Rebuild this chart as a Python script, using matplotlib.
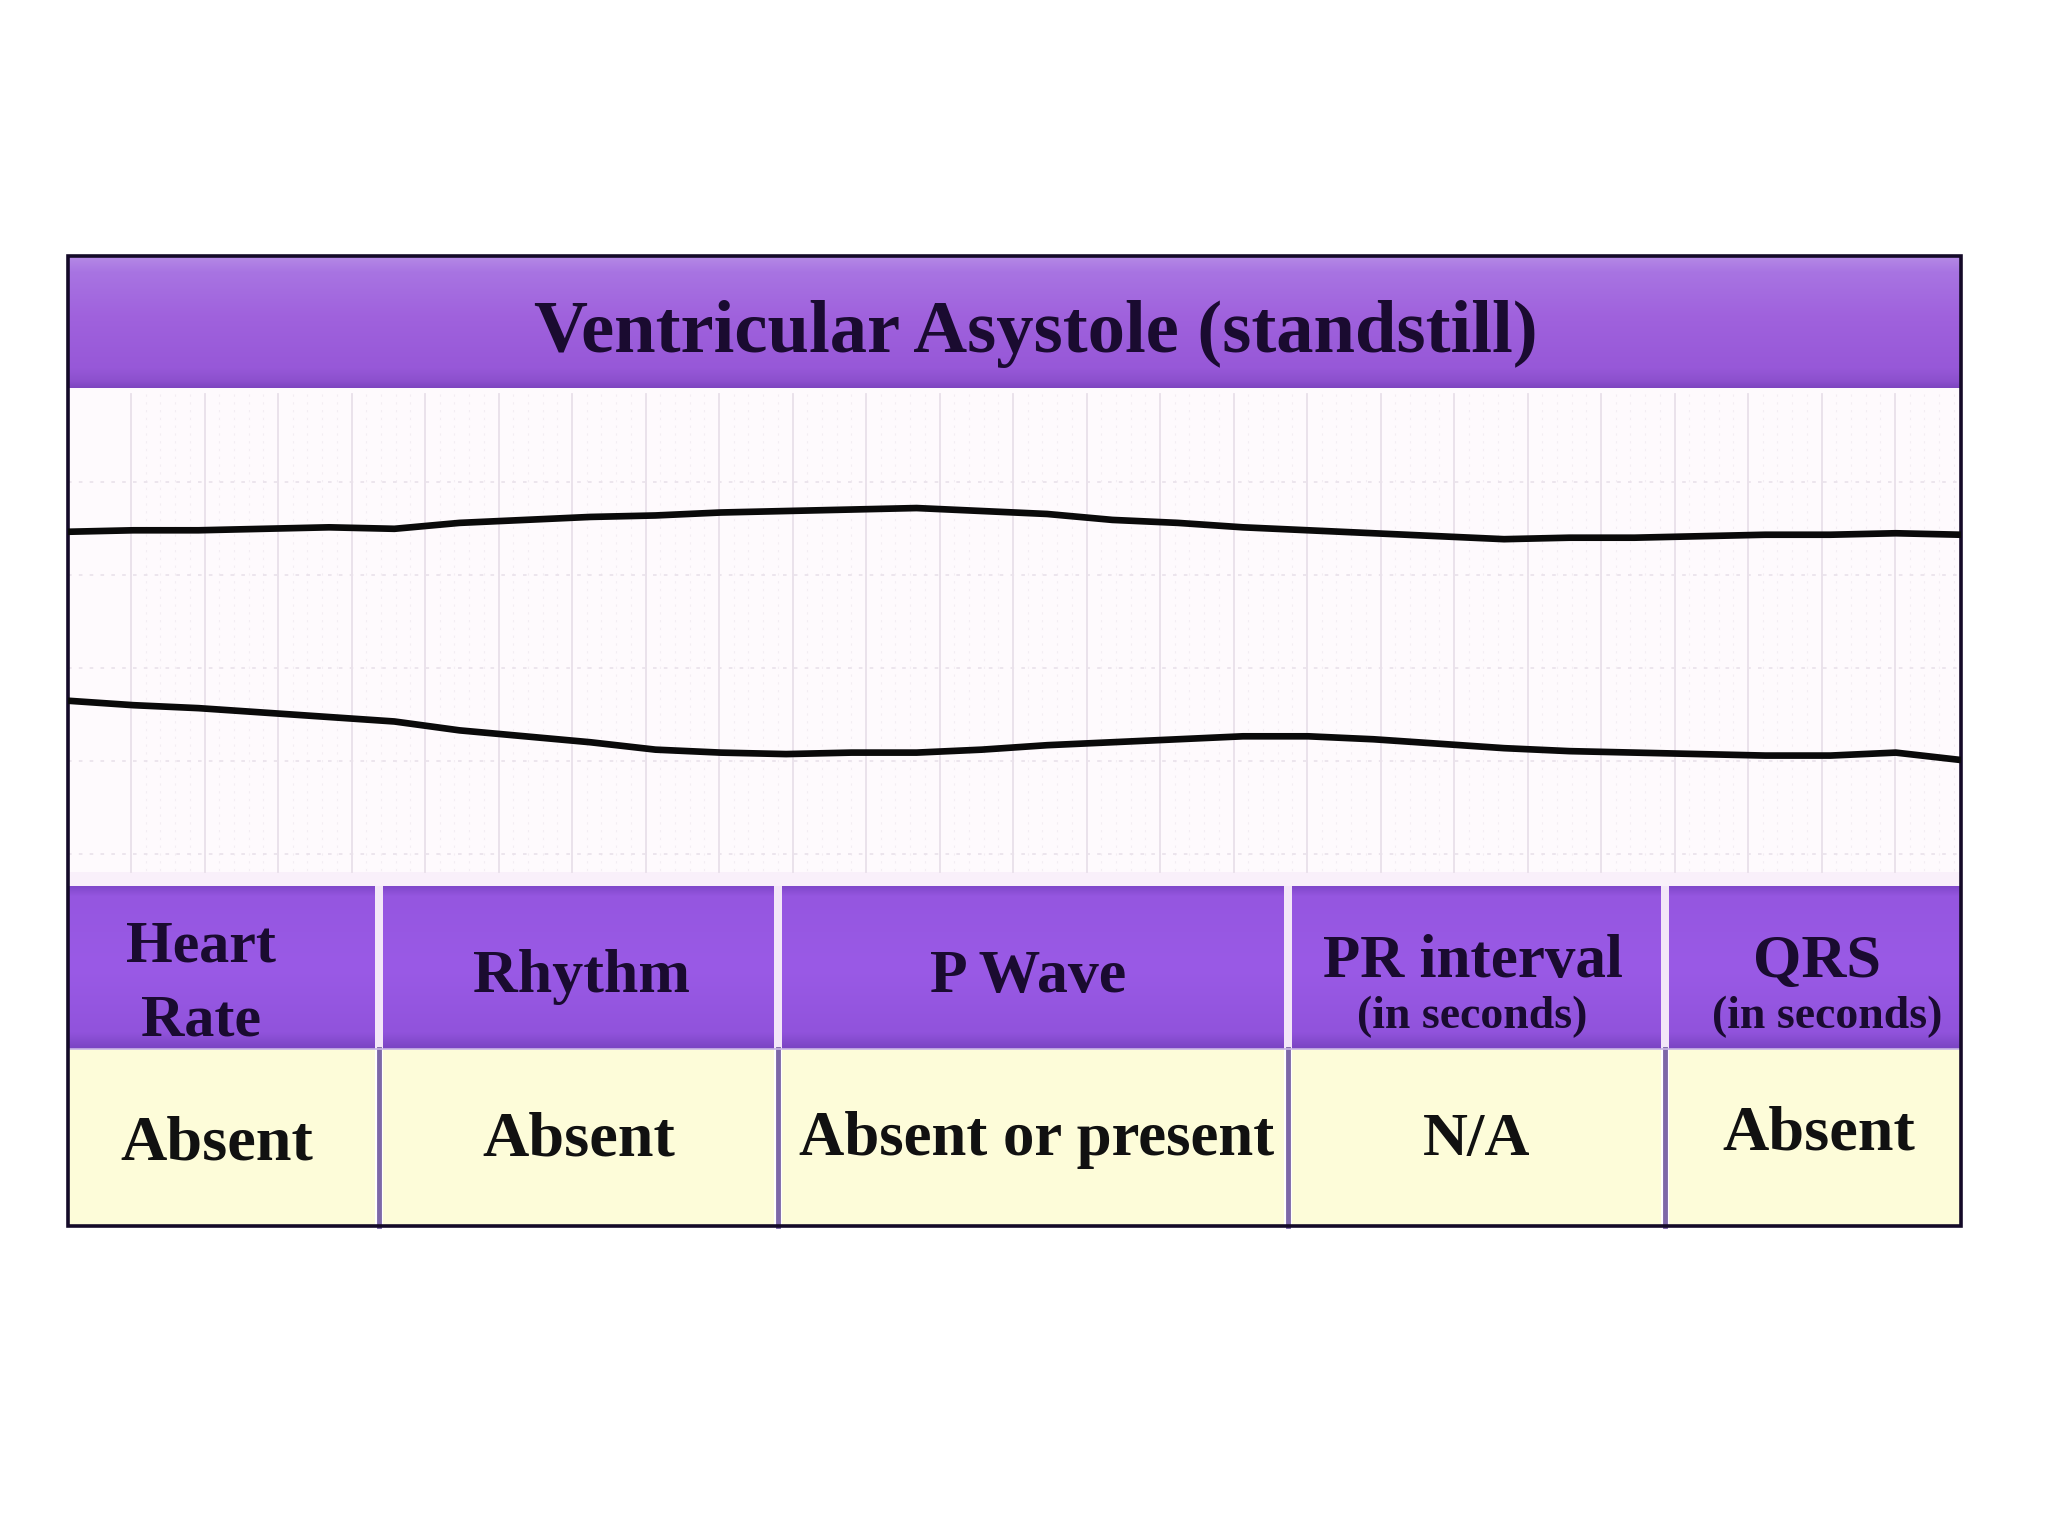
import matplotlib
matplotlib.use("Agg")
import matplotlib.pyplot as plt
import numpy as np
from matplotlib.patches import Rectangle
from matplotlib.colors import to_rgb

# ---------------- data ----------------
title = "Ventricular Asystole (standstill)"
header_labels = ["Heart\nRate", "Rhythm", "P Wave", "PR interval", "QRS"]
header_sub = ["", "", "", "(in seconds)", "(in seconds)"]
row_values = ["Absent", "Absent", "Absent or present", "N/A", "Absent"]

# ECG strip samples (time in s, amplitude in mm above strip bottom)
time_s = [0.0, 0.2, 0.4, 0.6, 0.8, 1.0, 1.2, 1.4, 1.6, 1.8,
          2.0, 2.2, 2.4, 2.6, 2.8, 3.0, 3.2, 3.4, 3.6, 3.8,
          4.0, 4.2, 4.4, 4.6, 4.8, 5.0, 5.2, 5.4, 5.6, 5.8]
upper_mm = [23.9, 24.0, 24.0, 24.1, 24.2, 24.1, 24.5, 24.7, 24.9, 25.0,
            25.2, 25.3, 25.4, 25.5, 25.3, 25.1, 24.7, 24.5, 24.2, 24.0,
            23.8, 23.6, 23.4, 23.5, 23.5, 23.6, 23.7, 23.7, 23.8, 23.7]
lower_mm = [12.5, 12.2, 12.0, 11.7, 11.4, 11.1, 10.5, 10.1, 9.7, 9.2,
            9.0, 8.9, 9.0, 9.0, 9.2, 9.5, 9.7, 9.9, 10.1, 10.1,
            9.9, 9.6, 9.3, 9.1, 9.0, 8.9, 8.8, 8.8, 9.0, 8.5]

# ---------------- layout (pixels) ----------------
W, H = 2048, 1536
BOX_L, BOX_R, BOX_T, BOX_B = 68, 1961, 256, 1226
TITLE_B = 388
ECG_B = 886
HEAD_B = 1049
DIVS = [379, 778, 1288, 1665]

fig = plt.figure(figsize=(W / 100, H / 100), dpi=100)
fig.patch.set_facecolor("white")
ax = fig.add_axes([0, 0, 1, 1])
ax.set_axis_off()


def vgrad(x0, x1, y0, y1, stops, z=1):
    n = 200
    pos = np.array([s[0] for s in stops])
    cols = np.array([to_rgb(s[1]) for s in stops])
    t = np.linspace(0, 1, n)
    arr = np.stack([np.interp(t, pos, cols[:, i]) for i in range(3)], axis=-1)
    arr = arr[:, None, :]
    ax.imshow(arr, extent=[x0, x1, y1, y0], origin="upper",
              aspect="auto", zorder=z, interpolation="bilinear")


# title band
vgrad(BOX_L, BOX_R, BOX_T, TITLE_B,
      [(0, "#b58ae6"), (0.12, "#a874e2"), (0.45, "#a062dd"),
       (0.85, "#9758d8"), (0.95, "#8c50cd"), (1.0, "#7e46c0")])

# ECG background
ax.add_patch(Rectangle((BOX_L, TITLE_B), BOX_R - BOX_L, ECG_B - TITLE_B,
                       facecolor="#fefafd", edgecolor="none", zorder=1))
ax.add_patch(Rectangle((BOX_L, ECG_B - 14), BOX_R - BOX_L, 14,
                       facecolor="#f9f0fa", edgecolor="none", zorder=1.2))
# grid
gx = 131.0
while gx < BOX_R:
    if gx > BOX_L:
        ax.plot([gx, gx], [TITLE_B + 6, ECG_B - 14], color="#e8e0ea",
                lw=1.3, zorder=1.5)
    for m in range(1, 5):
        mx = gx + m * 14.7
        if BOX_L < mx < BOX_R:
            ax.plot([mx, mx], [TITLE_B + 6, ECG_B - 14], color="#f3edf3",
                    lw=0.8, ls=(0, (2, 5)), zorder=1.4)
    gx += 73.5
gy = 482.0
while gy < ECG_B - 14:
    ax.plot([BOX_L, BOX_R], [gy, gy], color="#ebe3ec", lw=1.3,
            ls=(0, (2, 4)), zorder=1.5)
    gy += 93.0

# header cells
hx = [BOX_L] + DIVS + [BOX_R]
for i in range(5):
    x0 = hx[i] + (4 if i > 0 else 0)
    x1 = hx[i + 1] - (4 if i < 4 else 0)
    vgrad(x0, x1, ECG_B, HEAD_B,
          [(0, "#8048ca"), (0.06, "#9556e0"), (0.5, "#9a5ae6"),
           (0.9, "#9153dc"), (1.0, "#7a44c2")], z=2)
    ax.add_patch(Rectangle((x0, HEAD_B), x1 - x0, BOX_B - HEAD_B,
                           facecolor="#fdfcd9", edgecolor="none", zorder=2))
for d in DIVS:
    ax.add_patch(Rectangle((d - 4, ECG_B), 8, HEAD_B - ECG_B,
                           facecolor="#f3e6f8", edgecolor="none", zorder=2.5))
    ax.plot([d, d], [HEAD_B, BOX_B], color="#7d68a8", lw=3.5, zorder=2.5)
ax.plot([BOX_L, BOX_R], [HEAD_B, HEAD_B], color="#c9b5e6", lw=1.2, zorder=2.6)

# border
ax.add_patch(Rectangle((BOX_L, BOX_T), BOX_R - BOX_L, BOX_B - BOX_T,
                       fill=False, edgecolor="#140a28", lw=2.6, zorder=5))

ax.set_xlim(0, W)
ax.set_ylim(H, 0)

# ECG traces via their own axes
ax2 = fig.add_axes([BOX_L / W, 1 - ECG_B / H, (BOX_R - BOX_L) / W,
                    (ECG_B - TITLE_B) / H])
ax2.patch.set_visible(False)
ax2.set_axis_off()
ax2.plot(time_s, upper_mm, color="#0a0a0a", lw=4.8, solid_joinstyle="round",
         solid_capstyle="butt")
ax2.plot(time_s, lower_mm, color="#0a0a0a", lw=4.8, solid_joinstyle="round",
         solid_capstyle="butt")
ax2.set_xlim(0, 5.8)
ax2.set_ylim(0, 33.6)

# ---------------- texts ----------------
FONT = ["Liberation Serif", "DejaVu Serif"]
items = []


def put(s, cx, base, width, cap, color):
    t = ax.text(cx, base, s, ha="center", va="baseline", fontsize=40,
                fontweight="bold", family=FONT, color=color, zorder=6)
    items.append((t, width, cap))


put(title, 1036, 352, 1002, 63, "#1a0b30")
hl = header_labels[0].split("\n")
put(hl[0], 201, 961, 150, 49, "#1a0b30")
put(hl[1], 201, 1035, 120, 49, "#1a0b30")
put(header_labels[1], 581, 992, 217, 50, "#1a0b30")
put(header_labels[2], 1028, 992, 196, 50, "#1a0b30")
put(header_labels[3], 1473, 977, 300, 50, "#1a0b30")
put(header_sub[3], 1472, 1028, 247, 30, "#1a0b30")
put(header_labels[4], 1817, 977, 128, 50, "#1a0b30")
put(header_sub[4], 1827, 1028, 246, 30, "#1a0b30")
put(row_values[0], 217, 1159, 192, 53, "#111111")
put(row_values[1], 579, 1155, 192, 53, "#111111")
put(row_values[2], 1037, 1155, 474, 53, "#111111")
put(row_values[3], 1477, 1155, 107, 53, "#111111")
put(row_values[4], 1819, 1149, 192, 53, "#111111")

fig.canvas.draw()
r = fig.canvas.get_renderer()
for t, tw, cap in items:
    w = t.get_window_extent(r).width
    fs = t.get_fontsize()
    by_w = fs * tw / w
    by_cap = cap / 0.655 * 0.72
    t.set_fontsize(min(by_w, by_cap))

fig.savefig("out.png", dpi=100, facecolor="white")
